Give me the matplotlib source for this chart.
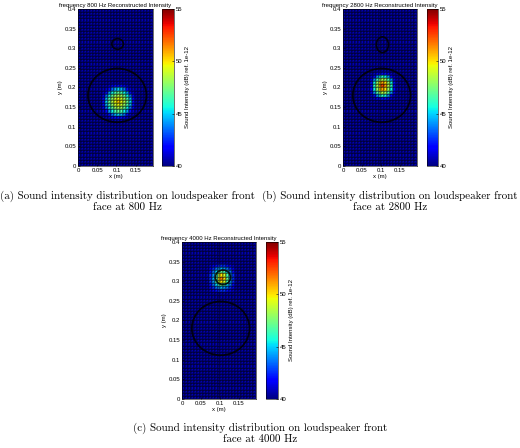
import numpy as np
import matplotlib
matplotlib.use("Agg")
import matplotlib.pyplot as plt
from matplotlib.patches import Ellipse

plt.rcParams["font.family"] = "Liberation Sans"

# measurement grid (m)
x_max = 0.195
y_max = 0.4
n_cols = 25
n_rows = 50
background_db = 40.7

frequencies = [800, 2800, 4000]
panel_letters = ["a", "b", "c"]

# hot-spot centres (m)
spot_x = [0.105, 0.108, 0.104]
spot_y = [0.166, 0.201, 0.308]

# intensity around each hot spot (dB), rows top -> bottom
spot_800 = [
    [40.8, 40.8, 41.0, 41.5, 42.0, 42.0, 42.0, 41.5, 41.0, 40.8, 40.8],
    [40.8, 41.0, 42.0, 43.5, 44.5, 45.0, 44.5, 43.5, 42.0, 41.0, 40.8],
    [41.0, 42.0, 44.0, 45.5, 46.5, 47.0, 46.5, 45.5, 44.0, 42.0, 41.0],
    [41.5, 43.5, 45.5, 47.0, 48.0, 48.5, 48.0, 47.0, 45.5, 43.5, 41.5],
    [42.0, 44.5, 46.5, 48.0, 49.0, 49.6, 49.0, 48.0, 46.5, 44.5, 42.0],
    [42.0, 45.0, 47.0, 48.5, 49.6, 50.4, 49.6, 48.5, 47.0, 45.0, 42.0],
    [42.0, 44.5, 46.5, 48.0, 49.0, 49.6, 49.0, 48.0, 46.5, 44.5, 42.0],
    [41.5, 43.5, 45.5, 47.0, 48.0, 48.5, 48.0, 47.0, 45.5, 43.5, 41.5],
    [41.0, 42.0, 44.0, 45.5, 46.5, 47.0, 46.5, 45.5, 44.0, 42.0, 41.0],
    [40.8, 41.0, 42.0, 43.5, 44.5, 45.0, 44.5, 43.5, 42.0, 41.0, 40.8],
    [40.8, 40.8, 41.0, 41.5, 42.0, 42.0, 42.0, 41.5, 41.0, 40.8, 40.8],
]
spot_2800 = [
    [40.8, 41.0, 41.5, 42.0, 42.0, 42.0, 41.5, 41.0, 40.8],
    [41.0, 42.0, 44.0, 45.5, 46.0, 45.5, 44.0, 42.0, 41.0],
    [41.5, 44.0, 46.5, 48.0, 48.5, 48.0, 46.5, 44.0, 41.5],
    [42.0, 45.5, 48.0, 50.0, 51.0, 50.0, 48.0, 45.5, 42.0],
    [42.0, 46.0, 48.5, 51.0, 52.5, 51.0, 48.5, 46.0, 42.0],
    [42.0, 45.5, 48.0, 50.0, 51.0, 50.0, 48.0, 45.5, 42.0],
    [41.5, 44.0, 46.5, 48.0, 48.5, 48.0, 46.5, 44.0, 41.5],
    [41.0, 42.0, 44.0, 45.5, 46.0, 45.5, 44.0, 42.0, 41.0],
    [40.8, 41.0, 41.5, 42.0, 42.0, 42.0, 41.5, 41.0, 40.8],
]
spot_4000 = [
    [41.0, 41.5, 42.0, 42.5, 42.5, 42.5, 42.0, 41.5, 41.0],
    [41.5, 42.5, 43.5, 44.0, 44.5, 44.0, 43.5, 42.5, 41.5],
    [42.0, 43.5, 45.0, 46.5, 47.0, 46.5, 45.0, 43.5, 42.0],
    [42.5, 44.0, 46.5, 49.0, 50.0, 49.0, 46.5, 44.0, 42.5],
    [42.5, 44.5, 47.0, 50.0, 51.5, 50.0, 47.0, 44.5, 42.5],
    [42.5, 44.0, 46.5, 49.0, 50.0, 49.0, 46.5, 44.0, 42.5],
    [42.0, 43.5, 45.0, 46.5, 47.0, 46.5, 45.0, 43.5, 42.0],
    [41.5, 42.5, 43.5, 44.0, 44.5, 44.0, 43.5, 42.5, 41.5],
    [41.0, 41.5, 42.0, 42.5, 42.5, 42.5, 42.0, 41.5, 41.0],
]
spots = [spot_800, spot_2800, spot_4000]

# loudspeaker outline: woofer and tweeter (centre, width, height in m)
woofer = (0.102, 0.180, 0.152, 0.137)
tweeter_x = [0.103, 0.104, 0.108]
tweeter_y = [0.311, 0.309, 0.310]
tweeter_w = [0.030, 0.032, 0.040]
tweeter_h = [0.027, 0.040, 0.037]

cbar_ticks = [40, 45, 50, 55]
x_ticks = [0, 0.05, 0.1, 0.15]
x_tick_labels = ["0", "0.05", "0.1", "0.15"]
y_ticks = [0, 0.05, 0.1, 0.15, 0.2, 0.25, 0.3, 0.35, 0.4]
y_tick_labels = ["0", "0.05", "0.1", "0.15", "0.2", "0.25", "0.3", "0.35", "0.4"]

# figure-fraction rectangles [left, bottom, width, height]
axes_rects = [
    [0.150, 0.6295, 0.1442, 0.3504],
    [0.6596, 0.6295, 0.1423, 0.3504],
    [0.350, 0.1094, 0.1423, 0.3504],
]
cbar_rects = [
    [0.3115, 0.6295, 0.0231, 0.3504],
    [0.8212, 0.6295, 0.0212, 0.3504],
    [0.5115, 0.1094, 0.0231, 0.3504],
]
caption_pos = [(127 / 520, 1 - 191 / 448), (390 / 520, 1 - 191 / 448), (260 / 520, 1 - 423 / 448)]


def build_map(patch, cx, cy):
    grid = np.full((n_rows, n_cols), background_db)
    patch = np.array(patch)[::-1]
    half_r = patch.shape[0] // 2
    half_c = patch.shape[1] // 2
    r0 = int(cy / (y_max / n_rows)) - half_r
    c0 = int(cx / (x_max / n_cols)) - half_c
    grid[r0:r0 + patch.shape[0], c0:c0 + patch.shape[1]] = patch
    return grid


fig = plt.figure(figsize=(5.2, 4.48), dpi=100)
x_edges = np.linspace(0, x_max, n_cols + 1)
y_edges = np.linspace(0, y_max, n_rows + 1)

for i in range(3):
    ax = fig.add_axes(axes_rects[i])
    values = build_map(spots[i], spot_x[i], spot_y[i])
    mesh = ax.pcolormesh(x_edges, y_edges, values, cmap="jet", vmin=40, vmax=55,
                         edgecolors=(0, 0, 0, 0.3), linewidth=0.3)
    wx, wy, ww, wh = woofer
    ax.add_patch(Ellipse((wx, wy), ww, wh, fill=False, edgecolor="black", linewidth=1.3, alpha=0.85))
    ax.add_patch(Ellipse((tweeter_x[i], tweeter_y[i]), tweeter_w[i], tweeter_h[i],
                         fill=False, edgecolor="black", linewidth=1.2, alpha=0.85))
    ax.set_xlim(0, x_max)
    ax.set_ylim(0, y_max)
    ax.set_xticks(x_ticks)
    ax.set_xticklabels(x_tick_labels)
    ax.set_yticks(y_ticks)
    ax.set_yticklabels(y_tick_labels)
    ax.tick_params(direction="in", length=1.5, width=0.4, labelsize=4.3, pad=1.5)
    for sp in ax.spines.values():
        sp.set_linewidth(0.4)
    ax.set_xlabel("x (m)", fontsize=4.3, labelpad=1)
    ax.set_ylabel("y (m)", fontsize=4.3, labelpad=1)
    ax.set_title(f"frequency {frequencies[i]} Hz Reconstructed Intensity", fontsize=4.3, pad=1.5)

    cax = fig.add_axes(cbar_rects[i])
    cb = fig.colorbar(mesh, cax=cax, ticks=cbar_ticks)
    cb.outline.set_linewidth(0.4)
    cax.tick_params(direction="in", length=1.5, width=0.4, labelsize=4.3, pad=1)
    cb.set_label("Sound Intensity (dB) ref. 1e-12", fontsize=4.3, labelpad=2)

    cx_, cy_ = caption_pos[i]
    fig.text(cx_, cy_, f"({panel_letters[i]}) Sound intensity distribution on loudspeaker front\n"
             f"face at {frequencies[i]} Hz", ha="center", va="top", family="cmr10",
             fontsize=7.9, linespacing=1.05)

fig.savefig("out.png", dpi=100)
